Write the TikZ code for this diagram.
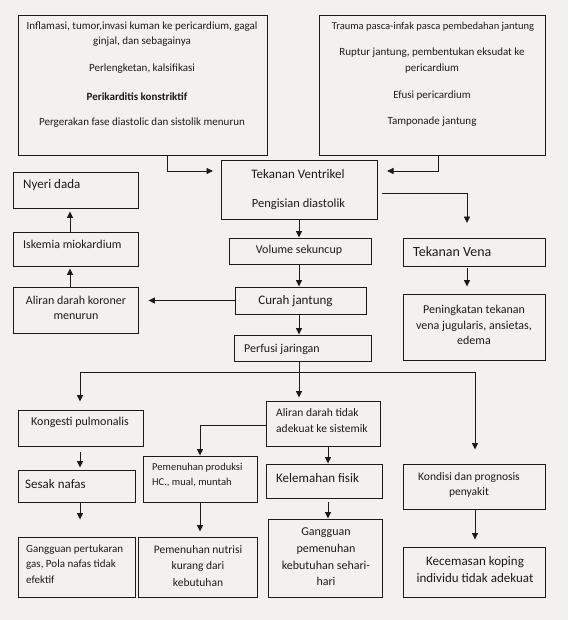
\documentclass[tikz,border=0pt]{standalone}
\usepackage{fontspec}
\setmainfont{Carlito}
\usetikzlibrary{arrows.meta,fit}
\definecolor{bg}{HTML}{F3F1EE}
\definecolor{ink}{HTML}{1E1A18}
\newcommand\myfs[2]{\fontsize{#1}{#2}\selectfont}
\tikzset{
  box/.style={draw=ink, line width=0.9pt, inner sep=0pt},
  arr/.style={draw=ink, line width=0.9pt, -{Triangle[length=6.5pt,width=6pt]}},
  ln/.style={draw=ink, line width=0.9pt},
  tx/.style={inner sep=0pt, text=ink, align=center},
  txl/.style={inner sep=0pt, text=ink, align=left, anchor=west},
}
\begin{document}
\begin{tikzpicture}[x=1pt,y=-1pt]
\fill[bg] (0,0) rectangle (568,620);
\useasboundingbox (0,0) rectangle (568,620);

% boxes
\node[box, fit={(18,15) (267,155)}] (tlb) {};
\node[box, fit={(319,15) (545,155)}] (trb) {};
\node[box, fit={(221,160) (377,219)}] (tek) {};
\node[box, fit={(13,172) (138,208)}] (nye) {};
\node[box, fit={(13,232) (138,266)}] (isk) {};
\node[box, fit={(13,287) (138,333)}] (akor) {};
\node[box, fit={(229,238) (371,264)}] (vol) {};
\node[box, fit={(235,287) (366,314)}] (cur) {};
\node[box, fit={(234,335) (371,361)}] (per) {};
\node[box, fit={(403,238) (545,266)}] (tve) {};
\node[box, fit={(403,294) (545,360)}] (pen) {};
\node[box, fit={(18,410) (143,446)}] (kon) {};
\node[box, fit={(266,401) (380,446)}] (ati) {};
\node[box, fit={(18,470) (135,502)}] (ses) {};
\node[box, fit={(143,456) (257,502)}] (ppr) {};
\node[box, fit={(266,464) (382,498)}] (kel) {};
\node[box, fit={(403,464) (545,509)}] (kpr) {};
\node[box, fit={(18,537) (135,597)}] (gpg) {};
\node[box, fit={(138,537) (257,597)}] (pnu) {};
\node[box, fit={(268,519) (382,597)}] (gpk) {};
\node[box, fit={(403,547) (545,597)}] (kec) {};

% texts
\node[tx, font=\myfs{11}{15}] (tl1) at (142,34.5) {Inflamasi, tumor,invasi kuman ke pericardium, gagal\\ginjal, dan sebagainya};
\node[tx, font=\myfs{11}{13}] (tl2) at (142,69) {Perlengketan, kalsifikasi};
\node[tx, font=\bfseries\myfs{11}{13}] (tl3) at (137,97) {Perikarditis konstriktif};
\node[tx, font=\myfs{11}{13}] (tl4) at (142,123) {Pergerakan fase diastolic dan sistolik menurun};

\node[tx, font=\myfs{10.5}{13}] (tr1) at (433,27) {Trauma pasca-infak pasca pembedahan jantung};
\node[tx, font=\myfs{11}{16}] (tr2) at (432,61) {Ruptur jantung, pembentukan eksudat ke\\pericardium};
\node[tx, font=\myfs{11}{13}] (tr3) at (432,96) {Efusi pericardium};
\node[tx, font=\myfs{11}{13}] (tr4) at (432,122) {Tamponade jantung};

\node[tx, font=\myfs{13}{15}] (tk1) at (298,174) {Tekanan Ventrikel};
\node[tx, font=\myfs{12.5}{15}] (tk2) at (298.5,204) {Pengisian diastolik};

\node[txl, font=\myfs{13}{15}] (t-nye) at (23,185) {Nyeri dada};
\node[txl, font=\myfs{12}{15}] (t-isk) at (23,244) {Iskemia miokardium};
\node[tx, font=\myfs{12}{14.5}] (t-akor) at (76,308) {Aliran darah koroner\\menurun};
\node[tx, font=\myfs{12}{15}] (t-vol) at (299,250) {Volume sekuncup};
\node[tx, font=\myfs{13}{15}] (t-cur) at (295.5,301) {Curah jantung};
\node[txl, font=\myfs{12}{15}] (t-per) at (244,349) {Perfusi jaringan};
\node[txl, font=\myfs{14}{16}] (t-tve) at (413,252) {Tekanan Vena};
\node[tx, font=\myfs{12}{15.5}] (t-pen) at (474,325) {Peningkatan tekanan\\vena jugularis, ansietas,\\edema};

\node[tx, font=\myfs{12}{15}] (t-kon) at (80,422) {Kongesti pulmonalis};
\node[txl, font=\myfs{13}{15}] (t-ses) at (25,484) {Sesak nafas};
\node[txl, font=\myfs{11}{15.5}] (t-gpg) at (26,564) {Gangguan pertukaran\\gas, Pola nafas tidak\\efektif};
\node[txl, font=\myfs{10.5}{15}] (t-ppr) at (152,475.5) {Pemenuhan produksi\\HC., mual, muntah};
\node[tx, font=\myfs{11.5}{16.5}] (t-pnu) at (198,566) {Pemenuhan nutrisi\\kurang dari\\kebutuhan};
\node[txl, font=\myfs{11.5}{16}] (t-ati) at (276,421) {Aliran darah tidak\\adekuat ke sistemik};
\node[txl, font=\myfs{13}{15}] (t-kel) at (276,478) {Kelemahan fisik};
\node[tx, font=\myfs{12}{16.7}] (t-gpk) at (326,557) {Gangguan\\pemenuhan\\kebutuhan sehari-\\hari};
\node[tx, font=\myfs{11.5}{15}] (t-kpr) at (469,484.5) {Kondisi dan prognosis\\penyakit};
\node[tx, font=\myfs{13}{17}] (t-kec) at (475,569.5) {Kecemasan koping\\individu tidak adekuat};

% coordinates
\coordinate (c1) at (167,171);
\coordinate (e1) at (213,171);
\coordinate (c2) at (438,171);
\coordinate (e2) at (387,171);
\coordinate (s3) at (382,193);
\coordinate (e3) at (467,223);
\coordinate (mx) at (299,0);
\coordinate (lx) at (70,0);
\coordinate (hl) at (80,372);
\coordinate (hr) at (475,372);
\coordinate (c15) at (200,425);
\coordinate (kx) at (328,0);

% connectors
\draw[arr] (tlb.south -| c1) |- (e1);
\draw[arr] (trb.south -| c2) |- (e2);
\draw[arr] (s3) -| (e3);
\draw[arr] (tek.south -| mx) -- (vol.north -| mx);
\draw[arr] (vol.south -| mx) -- (cur.north -| mx);
\draw[arr] (cur.south -| mx) -- (per.north -| mx);
\draw[arr] (cur.west) -- ([xshift=10pt]akor.east |- cur.west);
\draw[arr] (akor.north -| lx) -- ([yshift=-2pt]isk.south -| lx);
\draw[arr] (isk.north -| lx) -- ([yshift=-3pt]nye.south -| lx);
\draw[arr] ([yshift=-2pt]tve.south -| e3) -- ([yshift=7pt]pen.north -| e3);
\draw[arr] (per.south -| mx) -- ([yshift=3pt]ati.north -| mx);
\draw[ln] (hl) -- (hr);
\draw[arr] (hl) -- ([yshift=8pt]kon.north -| hl);
\draw[arr] (hr) -- ([yshift=14pt]kpr.north -| hr);
\draw[arr] ([yshift=-6pt]kon.south -| hl) -- ([yshift=2pt]ses.north -| hl);
\draw[arr] ([yshift=-1pt]ses.south -| hl) -- ([yshift=17pt]gpg.north -| hl);
\draw[arr] (ati.west |- c15) -| (ppr.north -| c15);
\draw[arr] (ppr.south -| c15) -- ([yshift=5pt]pnu.north -| c15);
\draw[arr] (ati.south -| kx) -- (kel.north -| kx);
\draw[arr] ([yshift=-4pt]kel.south -| kx) -- (gpk.north -| kx);
\draw[arr] (kpr.south -| hr) -- ([yshift=7pt]kec.north -| hr);
\end{tikzpicture}
\end{document}
